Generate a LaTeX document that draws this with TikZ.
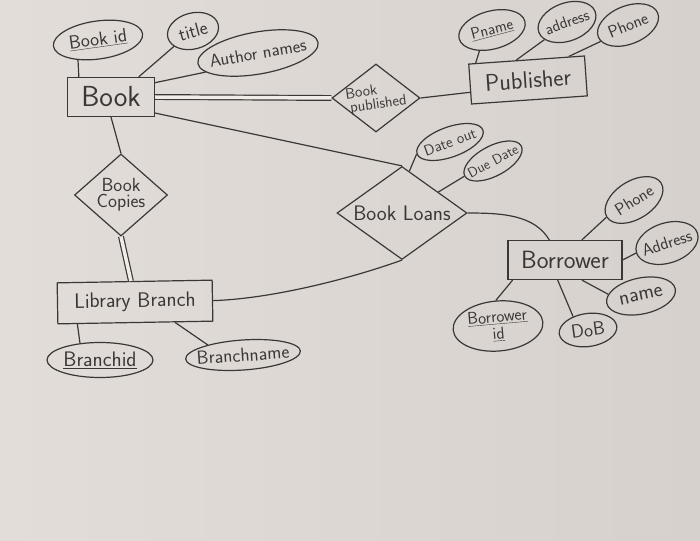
\documentclass[tikz,border=0pt]{standalone}
\usepackage{tikz}
\usetikzlibrary{shapes.geometric}
\definecolor{ink}{RGB}{58,56,55}
\definecolor{paperL}{RGB}{226,221,216}
\definecolor{paperM}{RGB}{240,237,232}
\definecolor{paperR}{RGB}{214,209,204}
\newcommand{\fsz}[1]{\fontsize{#1}{#1}\selectfont\sffamily}
\newcommand{\hw}[1]{\makebox[0pt]{#1}}
\tikzset{
    entity/.style={draw=ink,rectangle,inner sep=0pt,text=ink},
    attr/.style={draw=ink,ellipse,inner sep=0pt,text=ink},
    rel/.style={draw=ink,diamond,inner sep=0pt,text=ink},
    link/.style={draw=ink,line width=1.2pt},
    twolink/.style={link,double=paperM,double distance=3.5pt}
}

\begin{document}
\begin{tikzpicture}[x=1pt,y=-1pt,line width=1.2pt]
                \shade[left color=paperL,middle color=paperM,right color=paperR] (0,0) rectangle (700,540);
                \useasboundingbox (0,0) rectangle (700,540);

                \node[entity,minimum width=87,minimum height=39,font=\fsz{29}] (book) at (111,97) {Book};
                \node[attr,minimum width=90,minimum height=38,rotate=8,font=\fsz{19}] (bookid) at (98,40) {\hw{\underline{Book id}}};
                \node[attr,minimum width=52,minimum height=36,rotate=15,font=\fsz{19}] (title) at (193,31) {\hw{title}};
                \node[attr,minimum width=122,minimum height=42,rotate=10,font=\fsz{18}] (author) at (258,53) {\hw{Author names}};

                \node[rel,minimum width=88,minimum height=68,font=\fsz{15}] (bookpub) at (376,98) {\hw{\rotatebox{8}{\shortstack[l]{Book\\\hspace{3pt}published}}}};
                \node[entity,minimum width=116,minimum height=40,rotate=4,font=\fsz{24}] (publisher) at (528,80) {Publisher};
                \node[attr,minimum width=68,minimum height=38,rotate=15,font=\fsz{16}] (pname) at (492,30) {\hw{\underline{Pname}}};
                \node[attr,minimum width=60,minimum height=38,rotate=20,font=\fsz{16}] (pubaddress) at (567,22) {\hw{address}};
                \node[attr,minimum width=64,minimum height=38,rotate=22,font=\fsz{17}] (pubphone) at (628,25) {\hw{Phone}};

                \node[rel,minimum width=93,minimum height=82,font=\fsz{19}] (bookcopies) at (121,195) {\hw{\shortstack{Book\\Copies}}};
                \node[entity,minimum width=155,minimum height=41,rotate=1,font=\fsz{21}] (branch) at (135,302) {Library Branch};
                \node[attr,minimum width=106,minimum height=35,font=\fsz{21}] (branchid) at (100,360) {\hw{\underline{Branchid}}};
                \node[attr,minimum width=115,minimum height=30,rotate=4,font=\fsz{19}] (branchname) at (243,355) {\hw{Branchname}};

                \node[rel,minimum width=130,minimum height=93,font=\fsz{21}] (bookloans) at (402,213) {\hw{Book Loans}};
                \node[attr,minimum width=70,minimum height=30,rotate=20,font=\fsz{15}] (dateout) at (450,142) {\hw{Date out}};
                \node[attr,minimum width=64,minimum height=30,rotate=28,font=\fsz{14}] (duedate) at (493,161) {\hw{Due Date}};

                \node[entity,minimum width=114,minimum height=39,font=\fsz{25}] (borrower) at (565,260) {Borrower};
                \node[attr,minimum width=64,minimum height=38,rotate=32,font=\fsz{17}] (borphone) at (634,200) {\hw{Phone}};
                \node[attr,minimum width=64,minimum height=40,rotate=18,font=\fsz{17}] (boraddress) at (667,243) {\hw{Address}};
                \node[attr,minimum width=70,minimum height=36,rotate=12,font=\fsz{21}] (borname) at (641,296) {\hw{name}};
                \node[attr,minimum width=58,minimum height=33,rotate=8,font=\fsz{19}] (dob) at (588,330) {\hw{DoB}};
                \node[attr,minimum width=90,minimum height=50,rotate=5,font=\fsz{17}] (borid) at (498,326) {\hw{\shortstack{\underline{Borrower}\\\underline{id}}}};

                \draw[link] (bookid.217) -- (book.148);
                \draw[link] (title.204) -- (book.36);
                \draw[link] (author.190) -- (book.18);
                \draw[twolink] (book.east) -- (bookpub.west);
                \draw[link] (book.340) -- (bookloans.north);
                \draw[link] (book.south) -- (bookcopies.north);
                \draw[link] (bookpub.east) -- (publisher.188);
                \draw[link] (pname.224) -- (publisher.158);
                \draw[link] (pubaddress.198) -- (publisher.117);
                \draw[link] (pubphone.189) -- (publisher.26);
                \draw[twolink] (bookcopies.south) -- (branch.100);
                \draw[link] (branch.200) -- (branchid.140);
                \draw[link] (branch.332) -- (branchname.160);
                \draw[link] (branch.east) .. controls +(60,-2) and +(-50,18) .. (bookloans.south);
                \draw[link] (dateout.west) -- (bookloans.80);
                \draw[link] (duedate.west) -- (bookloans.30);
                \draw[link] (bookloans.east) .. controls +(35,0) and +(-15,-25) .. (borrower.128);
                \draw[link] (borrower.50) -- (borphone.west);
                \draw[link] (borrower.east) -- (boraddress.west);
                \draw[link] (borrower.310) -- (borname.165);
                \draw[link] (borrower.250) -- (dob.130);
                \draw[link] (borrower.201) -- (borid.north);
\end{tikzpicture}
\end{document}
